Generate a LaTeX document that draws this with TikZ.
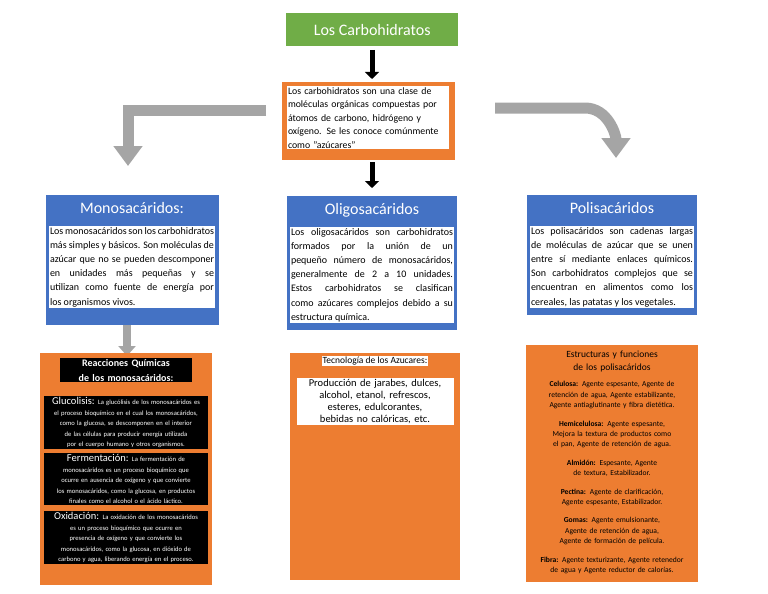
\documentclass[tikz,border=0pt]{standalone}
\usepackage{fontspec}
\setmainfont{Carlito}
\usetikzlibrary{arrows.meta}
\definecolor{gr}{HTML}{70AD47}
\definecolor{og}{HTML}{ED7D31}
\definecolor{bl}{HTML}{4472C4}
\definecolor{ga}{HTML}{A5A5A5}
\begin{document}
\hyphenpenalty=10000\relax
\exhyphenpenalty=10000\relax
\begin{tikzpicture}[x=1pt,y=-1pt,
 box/.style={draw=none,inner sep=0pt,anchor=north west},
 txt/.style={inner sep=1pt,anchor=north,align=justify,font=\fontsize{10}{14.2}\selectfont},
 ttl/.style={text=white,font=\fontsize{16}{19}\selectfont},
 blk/.style={-{Triangle[length=7pt,width=14pt]},line width=5pt},
 gar/.style={-{Triangle[length=20pt,width=28pt]},line width=11pt,draw=ga},
 bt/.style={inner sep=1pt,anchor=north,align=center,fill=black,text=white,font=\fontsize{6.6}{10.6}\selectfont,text width=162pt}]
\useasboundingbox (0,0) rectangle (768,594);
\fill[white] (0,0) rectangle (768,594);
\node[box,fill=gr,minimum width=172pt,minimum height=33pt] (t) at (286,13) {};
\node[ttl] at (t.center) {Los Carbohidratos};
\node[box,fill=og,minimum width=173pt,minimum height=78pt] (i) at (282,82) {};
\node[txt,fill=white,text width=160pt,align=left,font=\fontsize{9.8}{13.6}\selectfont] (it) at (368,86) {Los carbohidratos son una clase de moléculas orgánicas compuestas por átomos de carbono, hidrógeno y oxígeno. Se les conoce comúnmente como "azúcares"};
\draw[blk] (372,50) -- (372,79);
\draw[blk] (372,162) -- (372,188);
\draw[gar] (266,110) -- (128,110) -- (128,166);
\draw[gar] (495,108) -- (585,108) to[out=0,in=90] (616,158);
\node[box,fill=bl,minimum width=173pt,minimum height=130pt] (m) at (46,195) {};
\node[ttl] at (132,208) {Monosacáridos:};
\node[txt,fill=white,text width=164pt] at (132,226) {Los monosacáridos son los carbohidratos más simples y básicos. Son moléculas de azúcar que no se pueden descomponer en unidades más pequeñas y se utilizan como fuente de energía por los organismos vivos.};
\node[box,fill=bl,minimum width=170pt,minimum height=134pt] (o) at (287,196) {};
\node[ttl] at (372,210) {Oligosacáridos};
\node[txt,fill=white,text width=162pt] at (372,227) {Los oligosacáridos son carbohidratos formados por la unión de un pequeño número de monosacáridos, generalmente de 2 a 10 unidades. Estos carbohidratos se clasifican como azúcares complejos debido a su estructura química.};
\node[box,fill=bl,minimum width=170pt,minimum height=120pt] (p) at (527,195) {};
\node[ttl] at (612,208) {Polisacáridos};
\node[txt,fill=white,text width=162pt] at (612,226) {Los polisacáridos son cadenas largas de moléculas de azúcar que se unen entre sí mediante enlaces químicos. Son carbohidratos complejos que se encuentran en alimentos como los cereales, las patatas y los vegetales.};
\draw[-{Triangle[length=10pt,width=17pt]},line width=8pt,draw=ga] (127,325) -- (127,356);
\node[box,fill=og,minimum width=172pt,minimum height=232pt] (r) at (40,353) {};
\node[inner sep=1pt,anchor=north,align=center,fill=black,text=white,font=\bfseries\fontsize{10}{15}\selectfont,text width=130pt] at (126,358) {Reacciones Químicas de los monosacáridos:};
\node[bt] at (126,396) {{\fontsize{10.5}{10}\selectfont Glucolisis:} La glucólisis de los monosacáridos es el proceso bioquímico en el cual los monosacáridos, como la glucosa, se descomponen en el interior de las células para producir energía utilizada por el cuerpo humano y otros organismos.};
\node[bt] at (126,453) {{\fontsize{10.5}{10}\selectfont Fermentación:} La fermentación de monosacáridos es un proceso bioquímico que ocurre en ausencia de oxígeno y que convierte los monosacáridos, como la glucosa, en productos finales como el alcohol o el ácido láctico.};
\node[bt] at (126,511) {{\fontsize{10.5}{10}\selectfont Oxidación:} La oxidación de los monosacáridos es un proceso bioquímico que ocurre en presencia de oxígeno y que convierte los monosacáridos, como la glucosa, en dióxido de carbono y agua, liberando energía en el proceso.};
\node[box,fill=og,minimum width=170pt,minimum height=227pt] (te) at (290,353) {};
\node[inner sep=1pt,anchor=north,fill=white,font=\fontsize{9.5}{11}\selectfont] at (375,356) {Tecnología de los Azucares:};
\node[inner sep=1pt,anchor=north,align=center,fill=white,text width=155pt,font=\fontsize{10.5}{12}\selectfont] at (375,378) {Producción de jarabes, dulces, alcohol, etanol, refrescos, esteres, edulcorantes, bebidas no calóricas, etc.};
\node[box,fill=og,minimum width=172pt,minimum height=237pt] (e) at (526,345) {};
\node[anchor=north,align=center,text width=150pt,font=\fontsize{9.5}{13}\selectfont] at (612,347) {Estructuras y funciones de los polisacáridos};
\node[anchor=north,align=center,text width=162pt,font=\fontsize{7.6}{10.4}\selectfont] at (612,378) {\textbf{Celulosa:} Agente espesante, Agente de retención de agua, Agente estabilizante, Agente antiaglutinante y fibra dietética.\par\vspace{8pt}
\textbf{Hemicelulosa:} Agente espesante, Mejora la textura de productos como el pan, Agente de retención de agua.\par\vspace{8pt}
\textbf{Almidón:} Espesante, Agente de textura, Estabilizador.\par\vspace{8pt}
\textbf{Pectina:} Agente de clarificación, Agente espesante, Estabilizador.\par\vspace{8pt}
\textbf{Gomas:} Agente emulsionante, Agente de retención de agua, Agente de formación de película.\par\vspace{8pt}
\textbf{Fibra:} Agente texturizante, Agente retenedor de agua y Agente reductor de calorías.};
\end{tikzpicture}
\end{document}
